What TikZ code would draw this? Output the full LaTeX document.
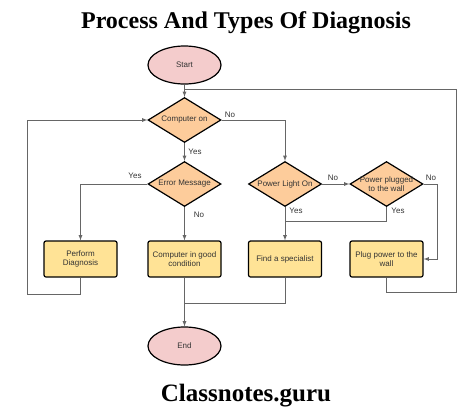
\documentclass[tikz,border=0pt]{standalone}
\usepackage{fontspec}
\setmainfont{Liberation Sans}
\newfontfamily\headfont{Liberation Serif}
\usepackage{tikz}
\usetikzlibrary{shapes,arrows}
\definecolor{peach}{RGB}{253,204,155}
\definecolor{sand}{RGB}{255,227,150}
\definecolor{rose}{RGB}{244,204,204}
\definecolor{ink}{RGB}{51,51,51}
\tikzset{
  base/.style     = {draw=black, line width=1.2pt, text=ink, align=center,
                     font=\fontsize{8}{9.5}\selectfont},
  terminal/.style = {base, ellipse, fill=rose, minimum width=73pt, minimum height=38pt},
  decision/.style = {base, diamond, fill=peach, inner sep=-6pt,
                     minimum width=73pt, minimum height=45pt},
  process/.style  = {base, rectangle, rounded corners=2pt, fill=sand,
                     minimum width=73pt, minimum height=36pt, inner sep=1pt},
  answer/.style   = {text=ink, font=\fontsize{8}{9.5}\selectfont, inner sep=0pt},
  flow/.style     = {draw=gray!80!black, line width=0.8pt, ->, >=latex},
  wire/.style     = {draw=gray!80!black, line width=0.8pt}
}

\begin{document}
\begin{tikzpicture}[x=1pt,y=-1pt]
	\useasboundingbox (0,0) rectangle (474,416);
	\node[anchor=base, font=\headfont\bfseries\fontsize{24}{28}\selectfont] (title) at (246,28) {Process And Types Of Diagnosis};
	\node[anchor=base, font=\headfont\bfseries\fontsize{25}{29}\selectfont] (site) at (246,401) {Classnotes.guru};
	\node[terminal] (start) at (184.5,65) {Start};
	\node[decision] (comp) at (184.5,120) {Computer on};
	\node[decision] (err) at (184.5,184) {Error Message};
	\node[decision] (light) at (285,184) {Power Light On};
	\node[decision] (plug) at (386.5,184) {Power plugged\\to the wall};
	\node[process] (diag) at (80.5,259) {Perform\\Diagnosis};
	\node[process] (good) at (184.5,259) {Computer in good\\condition};
	\node[process] (spec) at (285,259) {Find a specialist};
	\node[process] (wall) at (386.5,259) {Plug power to the\\wall};
	\node[terminal] (end) at (184.5,346) {End};
	\coordinate (top) at (184.5,89);
	\coordinate (lloop) at (27,294);
	\coordinate (rloop) at (456,292);
	\coordinate (merge) at (184.5,303);
	\coordinate (join) at (285,221);
	\coordinate (bend) at (437,184);
	\draw[flow] (start) -- (comp);
	\draw[flow] (comp) -- (err);
	\draw[flow] (comp.east) -| (light.north);
	\draw[flow] (err.west) -| (diag.north);
	\draw[flow] (err) -- (good);
	\draw[flow] (light.east) -- (plug.west);
	\draw[flow] (light) -- (spec);
	\draw[wire] (plug.south) |- (join);
	\draw[flow] (plug.east) -- (bend) |- (wall.east);
	\draw[flow] (good) -- (end);
	\draw[wire] (spec.south) |- (merge);
	\draw[flow] (diag.south) |- (lloop) |- (comp.west);
	\draw[wire] (wall.south) |- (rloop) |- (top);
	\node[answer] (nocomp) at (230,115) {No};
	\node[answer] (yescomp) at (195,152) {Yes};
	\node[answer] (yeserr) at (135,176) {Yes};
	\node[answer] (noerr) at (199,215) {No};
	\node[answer] (nolight) at (333,178) {No};
	\node[answer] (yeslight) at (296,211) {Yes};
	\node[answer] (noplug) at (431,178) {No};
	\node[answer] (yesplug) at (398,211) {Yes};
\end{tikzpicture}
\end{document}
